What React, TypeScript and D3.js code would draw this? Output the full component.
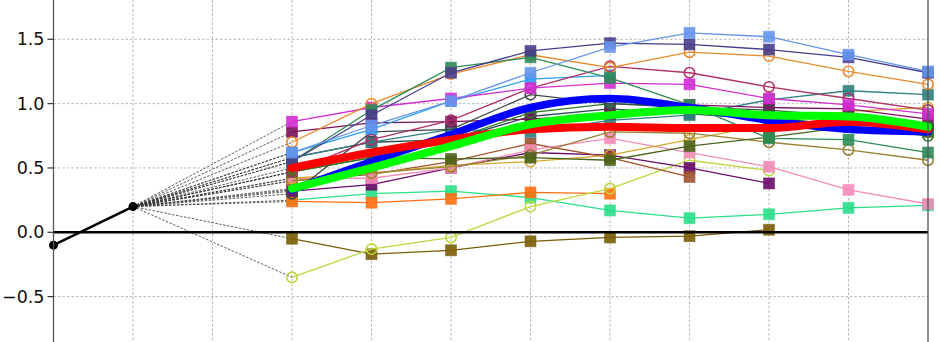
import React from "react";
import * as d3 from "d3";

const W = 940;
const H = 342;

const xStart = 3; // thin series start at x index 3
const leadX = [0, 1];
const leadY = [-0.1, 0.2];
const yTicks = [-0.5, 0.0, 0.5, 1.0, 1.5];
const yTickLabels = ["\u22120.5", "0.0", "0.5", "1.0", "1.5"];
const xGrid = [1, 2, 3, 4, 5, 6, 7, 8, 9, 10];
const hGrid = [-0.5, 0.5, 1.0, 1.5];

// thin series (values from x=3 onward)
const cornflower = [0.62, 0.83, 1.02, 1.24, 1.44, 1.55, 1.52, 1.38, 1.25];
const slateBlue = [0.55, 0.91, 1.24, 1.41, 1.47, 1.46, 1.42, 1.36, 1.24];
const seaGreen = [0.55, 0.95, 1.28, 1.36, 1.2, 0.99, 0.73, 0.72, 0.62];
const orangeCircle = [0.7, 1.0, 1.23, 1.38, 1.28, 1.4, 1.37, 1.25, 1.15];
const magenta = [0.86, 0.97, 1.04, 1.12, 1.16, 1.15, 1.04, 0.99, 0.92];
const maroonCircle = [0.47, 0.72, 0.87, 1.12, 1.29, 1.24, 1.13, 1.04, 0.95];
const dodger = [0.62, 0.8, 1.02, 1.19, 1.22];
const grayCircle = [0.3, 0.78, 0.8, 1.07, 1.0, 0.97, 0.95, 0.9, 0.82];
const greenCircle = [0.47, 0.58, 0.72, 0.93, 1.0, 0.98, 0.9, 0.82, 0.75];
const teal = [0.58, 0.7, 0.8, 0.78, 0.87, 0.91, 1.03, 1.1, 1.07];
const darkMaroon = [0.78, 0.85, 0.86, 0.88, 0.92, 0.99, 0.97, 0.96, 0.88];
const purple = [0.32, 0.37, 0.5, 0.62, 0.6, 0.5, 0.38];
const sienna = [0.4, 0.45, 0.55, 0.69, 0.58, 0.43];
const pink = [0.42, 0.42, 0.5, 0.64, 0.73, 0.62, 0.51, 0.33, 0.22];
const darkOlive = [0.47, 0.58, 0.57, 0.58, 0.56, 0.67, 0.74, 0.82, 0.78];
const oliveCircle = [0.4, 0.46, 0.51, 0.6, 0.78, 0.77, 0.7, 0.64, 0.56];
const goldCircle = [0.42, 0.46, 0.52, 0.55, 0.6, 0.72, 0.84, 0.94, 0.97];
const yellowGreen = [-0.35, -0.13, -0.04, 0.2, 0.34, 0.56, 0.48];
const oliveBrown = [-0.05, -0.17, -0.14, -0.07, -0.04, -0.03, 0.02];
const springGreen = [0.25, 0.3, 0.32, 0.27, 0.17, 0.11, 0.14, 0.19, 0.21];
const orangeRed = [0.24, 0.23, 0.26, 0.31, 0.3];
const darkSlate = [0.58, 0.7, 0.72, 0.9, 0.96, 0.92, 0.88, 0.84, 0.8];

// thick summary series
const blueThick = [0.33, 0.55, 0.76, 0.97, 1.04, 0.97, 0.87, 0.8, 0.78];
const redThick = [0.5, 0.62, 0.72, 0.8, 0.82, 0.81, 0.81, 0.86, 0.8];
const greenThick = [0.34, 0.5, 0.67, 0.84, 0.91, 0.95, 0.91, 0.9, 0.82];

type S = { v: number[]; c: string; m: "s" | "o" };
const thin: S[] = [
  { v: springGreen, c: "#2ADF8A", m: "s" },
  { v: orangeRed, c: "#FF6F10", m: "s" },
  { v: oliveBrown, c: "#7A5C05", m: "s" },
  { v: yellowGreen, c: "#BCD83C", m: "o" },
  { v: purple, c: "#6A0A6A", m: "s" },
  { v: sienna, c: "#A0522D", m: "s" },
  { v: pink, c: "#F48CBA", m: "s" },
  { v: goldCircle, c: "#D4A72C", m: "o" },
  { v: oliveCircle, c: "#9A8030", m: "o" },
  { v: darkOlive, c: "#4A6418", m: "s" },
  { v: darkSlate, c: "#2F4F4F", m: "s" },
  { v: teal, c: "#307F80", m: "s" },
  { v: darkMaroon, c: "#7A0F5A", m: "s" },
  { v: greenCircle, c: "#2A7A2A", m: "o" },
  { v: grayCircle, c: "#3C4A4A", m: "o" },
  { v: dodger, c: "#2EA0EE", m: "s" },
  { v: maroonCircle, c: "#B0306A", m: "o" },
  { v: magenta, c: "#D22ED2", m: "s" },
  { v: orangeCircle, c: "#E8892B", m: "o" },
  { v: seaGreen, c: "#2E8B57", m: "s" },
  { v: slateBlue, c: "#483D8B", m: "s" },
  { v: cornflower, c: "#6495ED", m: "s" },
];
const thick = [
  { v: blueThick, c: "#0000FF", w: 7.5 },
  { v: redThick, c: "#FF0000", w: 8 },
  { v: greenThick, c: "#00FF00", w: 8 },
];

export default function App() {
  const x = d3.scaleLinear().domain([0, 11]).range([53.5, 928]);
  const y = d3.scaleLinear().domain([0, 1.5]).range([232.3, 39.3]);
  const line = d3
    .line<number>()
    .x((_, i) => x(xStart + i))
    .y((d) => y(d));
  const smooth = d3
    .line<number>()
    .x((_, i) => x(xStart + i))
    .y((d) => y(d))
    .curve(d3.curveMonotoneX);
  const all = [...thin.map((s) => s.v), ...thick.map((s) => s.v)];
  return (
    <svg
      width={W}
      height={H}
      style={{ position: "absolute", left: 0, top: 0, background: "#fff" }}
      fontFamily="DejaVu Sans"
    >
      {/* grid */}
      {xGrid.map((g) => (
        <line key={"vx" + g} x1={x(g)} x2={x(g)} y1={0} y2={H} stroke="#b0b0b0" strokeWidth={0.9} strokeDasharray="2.5,2" />
      ))}
      {hGrid.map((g) => (
        <line key={"hy" + g} x1={x(0)} x2={x(11)} y1={y(g)} y2={y(g)} stroke="#b0b0b0" strokeWidth={0.9} strokeDasharray="2.5,2" />
      ))}
      {/* dashed connectors */}
      {all.map((v, i) => (
        <line key={"dc" + i} x1={x(1)} y1={y(0.2)} x2={x(xStart)} y2={y(v[0])} stroke="#333" strokeWidth={0.8} strokeDasharray="2.5,1.5" />
      ))}
      {/* thin series */}
      {thin.map((s, i) => (
        <g key={"t" + i}>
          <path d={line(s.v) || ""} fill="none" stroke={s.c} strokeWidth={1.3} />
          {s.v.map((d, j) =>
            s.m === "s" ? (
              <rect key={j} x={x(xStart + j) - 5.5} y={y(d) - 5.5} width={11} height={11} fill={s.c} fillOpacity={0.9} stroke={s.c} strokeOpacity={0.5} strokeWidth={1} />
            ) : (
              <circle key={j} cx={x(xStart + j)} cy={y(d)} r={5.2} fill="none" stroke={s.c} strokeWidth={1.6} />
            )
          )}
        </g>
      ))}
      {/* thick series */}
      {thick.map((s, i) => (
        <path key={"k" + i} d={smooth(s.v) || ""} fill="none" stroke={s.c} strokeWidth={s.w} strokeLinejoin="round" strokeLinecap="round" />
      ))}
      {/* zero line */}
      <line x1={x(0)} x2={x(11)} y1={y(0)} y2={y(0)} stroke="#000" strokeWidth={2.5} />
      {/* lead black line */}
      <path d={d3.line<number>().x((_, i) => x(leadX[i])).y((d) => y(d))(leadY) || ""} fill="none" stroke="#000" strokeWidth={2.5} />
      {leadY.map((d, i) => (
        <circle key={"ld" + i} cx={x(leadX[i])} cy={y(d)} r={4.5} fill="#000" />
      ))}
      {/* spines */}
      <line x1={x(0)} x2={x(0)} y1={0} y2={H} stroke="#555" strokeWidth={1.3} />
      <line x1={x(11)} x2={x(11)} y1={0} y2={H} stroke="#555" strokeWidth={1.3} />
      {/* ticks */}
      {yTicks.map((t, i) => (
        <g key={"yt" + i}>
          <line x1={x(0) - 6} x2={x(0)} y1={y(t)} y2={y(t)} stroke="#333" strokeWidth={1.2} />
          <text x={x(0) - 9} y={y(t)} textAnchor="end" dominantBaseline="central" fontSize={17.5} fill="#111">
            {yTickLabels[i]}
          </text>
        </g>
      ))}
    </svg>
  );
}
